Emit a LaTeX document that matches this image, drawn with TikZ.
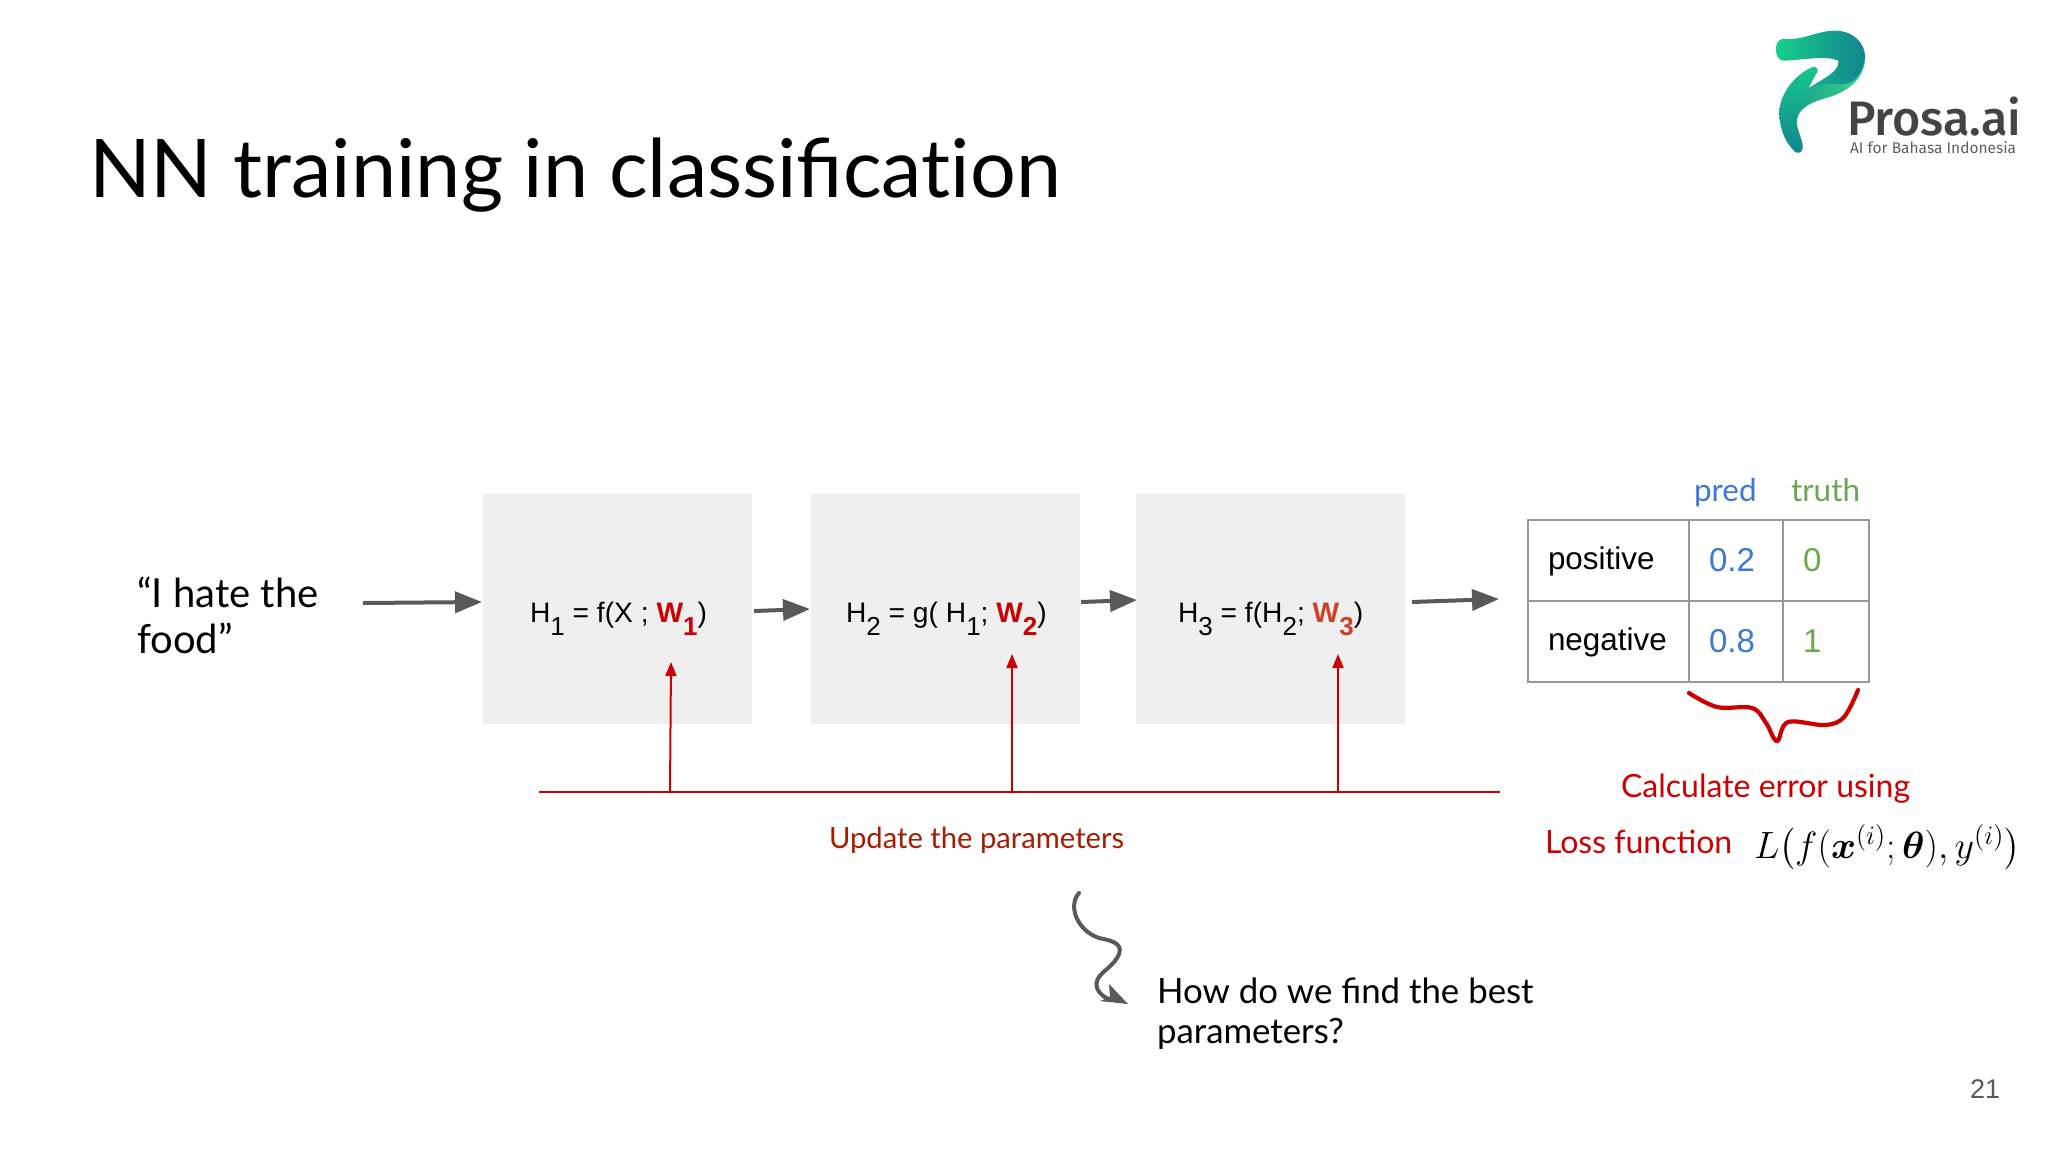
\RequirePackage{fix-cm}
\documentclass[tikz,border=0pt]{standalone}
\usepackage{amsmath,bm}
\usepackage{fontspec}
\setmainfont{Lato}
\newfontfamily\arialf{Liberation Sans}
\newfontfamily\logof{Fira Sans Medium}
\newfontfamily\logotag{Fira Sans}
\usetikzlibrary{arrows.meta}
\definecolor{boxgray}{HTML}{EFEFF0}
\definecolor{arrowgray}{HTML}{595959}
\definecolor{rulegray}{HTML}{999999}
\definecolor{redline}{HTML}{CC0000}
\definecolor{redtwo}{HTML}{CC4125}
\definecolor{darkred}{HTML}{A61C00}
\definecolor{predblue}{HTML}{3C78D8}
\definecolor{truthgreen}{HTML}{6AA84F}
\definecolor{logotext}{HTML}{444444}
\definecolor{logogreen}{HTML}{17D08C}
\definecolor{logoteal}{HTML}{13848F}
\definecolor{logomid}{HTML}{1FA98A}
\definecolor{logolight}{HTML}{3AD68C}
\newcommand{\SubH}[1]{\raisebox{-6.5pt}{\fontsize{13}{13}\selectfont #1}}
\newcommand{\SubB}[2]{\raisebox{-6.5pt}{\fontsize{13}{13}\selectfont\bfseries\textcolor{#1}{#2}}}
\tikzset{
  txt/.style={anchor=base west,inner sep=0pt,outer sep=0pt},
  hbox/.style={fill=boxgray,inner sep=0pt,outer sep=0pt,anchor=north west,minimum width=134.5pt,minimum height=115pt},
  htext/.style={txt,font=\arialf\fontsize{14.1}{16}\selectfont},
  bigarrow/.style={draw=arrowgray,line width=2pt,-{Triangle[length=13.5pt,width=10.5pt]}},
  redarrow/.style={draw=redline,line width=1pt,-{Triangle[length=7pt,width=5.5pt]}},
  redrule/.style={draw=redline,line width=1pt},
  cell/.style={draw=rulegray,line width=1pt,anchor=north west,inner ysep=0pt,inner xsep=10pt,outer sep=0pt,minimum height=40.5pt,align=left},
  namecell/.style={cell,text width=60.5pt,text height=11.6pt,text depth=2.4pt,font=\arialf\fontsize{15.7}{16}\selectfont},
  predcell/.style={cell,text width=27pt,text height=12pt,text depth=1.5pt,font=\arialf\fontsize{16.5}{17}\selectfont\color{predblue}},
  truthcell/.style={cell,text width=23pt,text height=12pt,text depth=1.5pt,font=\arialf\fontsize{16.5}{17}\selectfont\color{truthgreen}},
  bodytext/.style={txt,font=\fontsize{17.4}{20}\selectfont},
  inputtext/.style={txt,font=\fontsize{20}{22}\selectfont},
  redtext/.style={txt,font=\fontsize{16}{18}\selectfont,text=redline}
}
\begin{document}
\begin{tikzpicture}[x=0.5pt,y=-0.5pt]
\useasboundingbox (0,0) rectangle (2048,1152);
\fill[white] (0,0) rectangle (2048,1152);

% title
\node[txt,font=\fontsize{40.5}{44}\selectfont] (title) at (89,197) {NN training in classificat\kern0pt ion};

% logo
\begin{scope}[shift={(1740,0)},x=0.16667pt,y=-0.16667pt]
  \shade[top color=logogreen,bottom color=logoteal]
    (215,202) .. controls (230,195) and (240,212) .. (228,222)
    -- (205,265)
    .. controls (260,240) and (300,250) .. (335,245)
    .. controls (355,230) and (370,200) .. (375,165)
    .. controls (378,230) and (330,270) .. (270,290)
    .. controls (220,305) and (170,320) .. (170,370)
    .. controls (175,400) and (190,425) .. (188,445)
    .. controls (186,462) and (165,462) .. (160,450)
    .. controls (130,420) and (118,375) .. (118,340)
    .. controls (118,280) and (165,225) .. (215,202) -- cycle;
  \shade[left color=logomid,right color=logolight]
    (205,265) .. controls (260,240) and (300,250) .. (335,245)
    .. controls (355,230) and (370,200) .. (375,165)
    .. controls (378,230) and (330,270) .. (270,290)
    .. controls (240,298) and (210,308) .. (190,322)
    -- cycle;
  \shade[left color=logogreen,right color=logoteal]
    (130,117) .. controls (190,122) and (230,92) .. (285,92)
    .. controls (340,92) and (375,130) .. (375,170)
    .. controls (372,205) and (355,232) .. (335,245)
    .. controls (300,262) and (260,240) .. (205,265)
    .. controls (250,235) and (300,215) .. (295,182)
    .. controls (260,165) and (190,180) .. (130,182)
    .. controls (100,180) and (100,115) .. (130,117) -- cycle;
\end{scope}
\node[txt,font=\logof\fontsize{24.2}{26}\selectfont,text=logotext] (brand) at (1847,135) {Prosa.ai};
\node[txt,font=\logotag\fontsize{7.75}{8}\selectfont,text=logotext!85] (tag) at (1850,153) {AI for Bahasa Indonesia};

% input
\node[inputtext] (input) at (137,607) {“I hate the};
\node[inputtext] (input2) at (137,653) {food”};

% boxes
\node[hbox] (b1) at (483,494) {};
\node[hbox] (b2) at (811,494) {};
\node[hbox] (b3) at (1135.5,494) {};
\node[htext] (h1) at (530,622) {H\SubH{1} = f(X ; \textcolor{redline}{\bfseries W}\SubB{redline}{1})};
\node[htext] (h2) at (846,622) {H\SubH{2} = g( H\SubH{1}; \textcolor{redline}{\bfseries W}\SubB{redline}{2})};
\node[htext] (h3) at (1178,622) {H\SubH{3} = f(H\SubH{2}; \textcolor{redtwo}{\bfseries W}\SubB{redtwo}{3})};

% grey arrows
\coordinate (a1s) at (363,603); \coordinate (a1e) at (482,602);
\coordinate (a2s) at (754,611); \coordinate (a2e) at (810,609);
\coordinate (a3s) at (1081,602); \coordinate (a3e) at (1137,600);
\coordinate (a4s) at (1412,602); \coordinate (a4e) at (1499,599);
\draw[bigarrow] (a1s) -- (a1e);
\draw[bigarrow] (a2s) -- (a2e);
\draw[bigarrow] (a3s) -- (a3e);
\draw[bigarrow] (a4s) -- (a4e);

% feedback
\coordinate (rl) at (539,792); \coordinate (rr) at (1500,792);
\coordinate (v1b) at (670,792); \coordinate (v1t) at (671,662);
\coordinate (v2b) at (1012,792); \coordinate (v2t) at (1012,654);
\coordinate (v3b) at (1338,792); \coordinate (v3t) at (1338,654);
\draw[redarrow] (v1b) -- (v1t);
\draw[redarrow] (v2b) -- (v2t);
\draw[redarrow] (v3b) -- (v3t);
\draw[redrule] (rl) -- (rr);
\node[txt,font=\fontsize{14.6}{16}\selectfont,text=darkred] (upd) at (829,848) {Update the parameters};

% table
\node[namecell] (c11) at (1528,520) {positive};
\node[predcell] (c12) at (1689,520) {0.2};
\node[truthcell] (c13) at (1783,520) {0};
\node[namecell] (c21) at (1528,601) {negative};
\node[predcell] (c22) at (1689,601) {0.8};
\node[truthcell] (c23) at (1783,601) {1};
\node[txt,font=\fontsize{15.7}{18}\selectfont,text=predblue] (pred) at (1694,501) {pred};
\node[txt,font=\fontsize{15.7}{18}\selectfont,text=truthgreen] (truth) at (1791,501) {truth};

% brace
\draw[redline,line width=2.1pt,line cap=round] plot[smooth,tension=0.6] coordinates
  {(1689,693) (1717,707) (1752,708) (1766,723) (1777,741) (1788,722) (1825,725) (1844,717) (1858,690)};
\node[redtext] (calc) at (1621,797) {Calculate error using};
\node[redtext] (loss) at (1545,853) {Loss function};
\node[txt,font=\fontsize{19}{21}\selectfont] (lossf) at (1754,858) {$L\bigl(f(\bm{x}^{(i)};\bm{\theta}),y^{(i)}\bigr)$};

% question
\coordinate (qs) at (1079,893);
\coordinate (qe) at (1128,1004);
\draw[arrowgray,line width=2pt,line cap=round] (qs) .. controls (1068,905) and (1076,930) .. (1099,938)
  .. controls (1115,941) and (1125,945) .. (1117,958)
  .. controls (1110,970) and (1093,975) .. (1097,988)
  .. controls (1100,995) and (1105,998) .. (1112,1000);
\fill[arrowgray] (qe) -- (1100,1001) -- (1110,997) -- (1109,984) -- cycle;
\node[bodytext] (q1) at (1157,1003) {How do we find the best};
\node[bodytext] (q2) at (1157,1043) {parameters?};

% page number
\node[txt,font=\arialf\fontsize{13.5}{15}\selectfont,text=arrowgray] (page) at (1970,1098) {21};
\end{tikzpicture}
\end{document}
